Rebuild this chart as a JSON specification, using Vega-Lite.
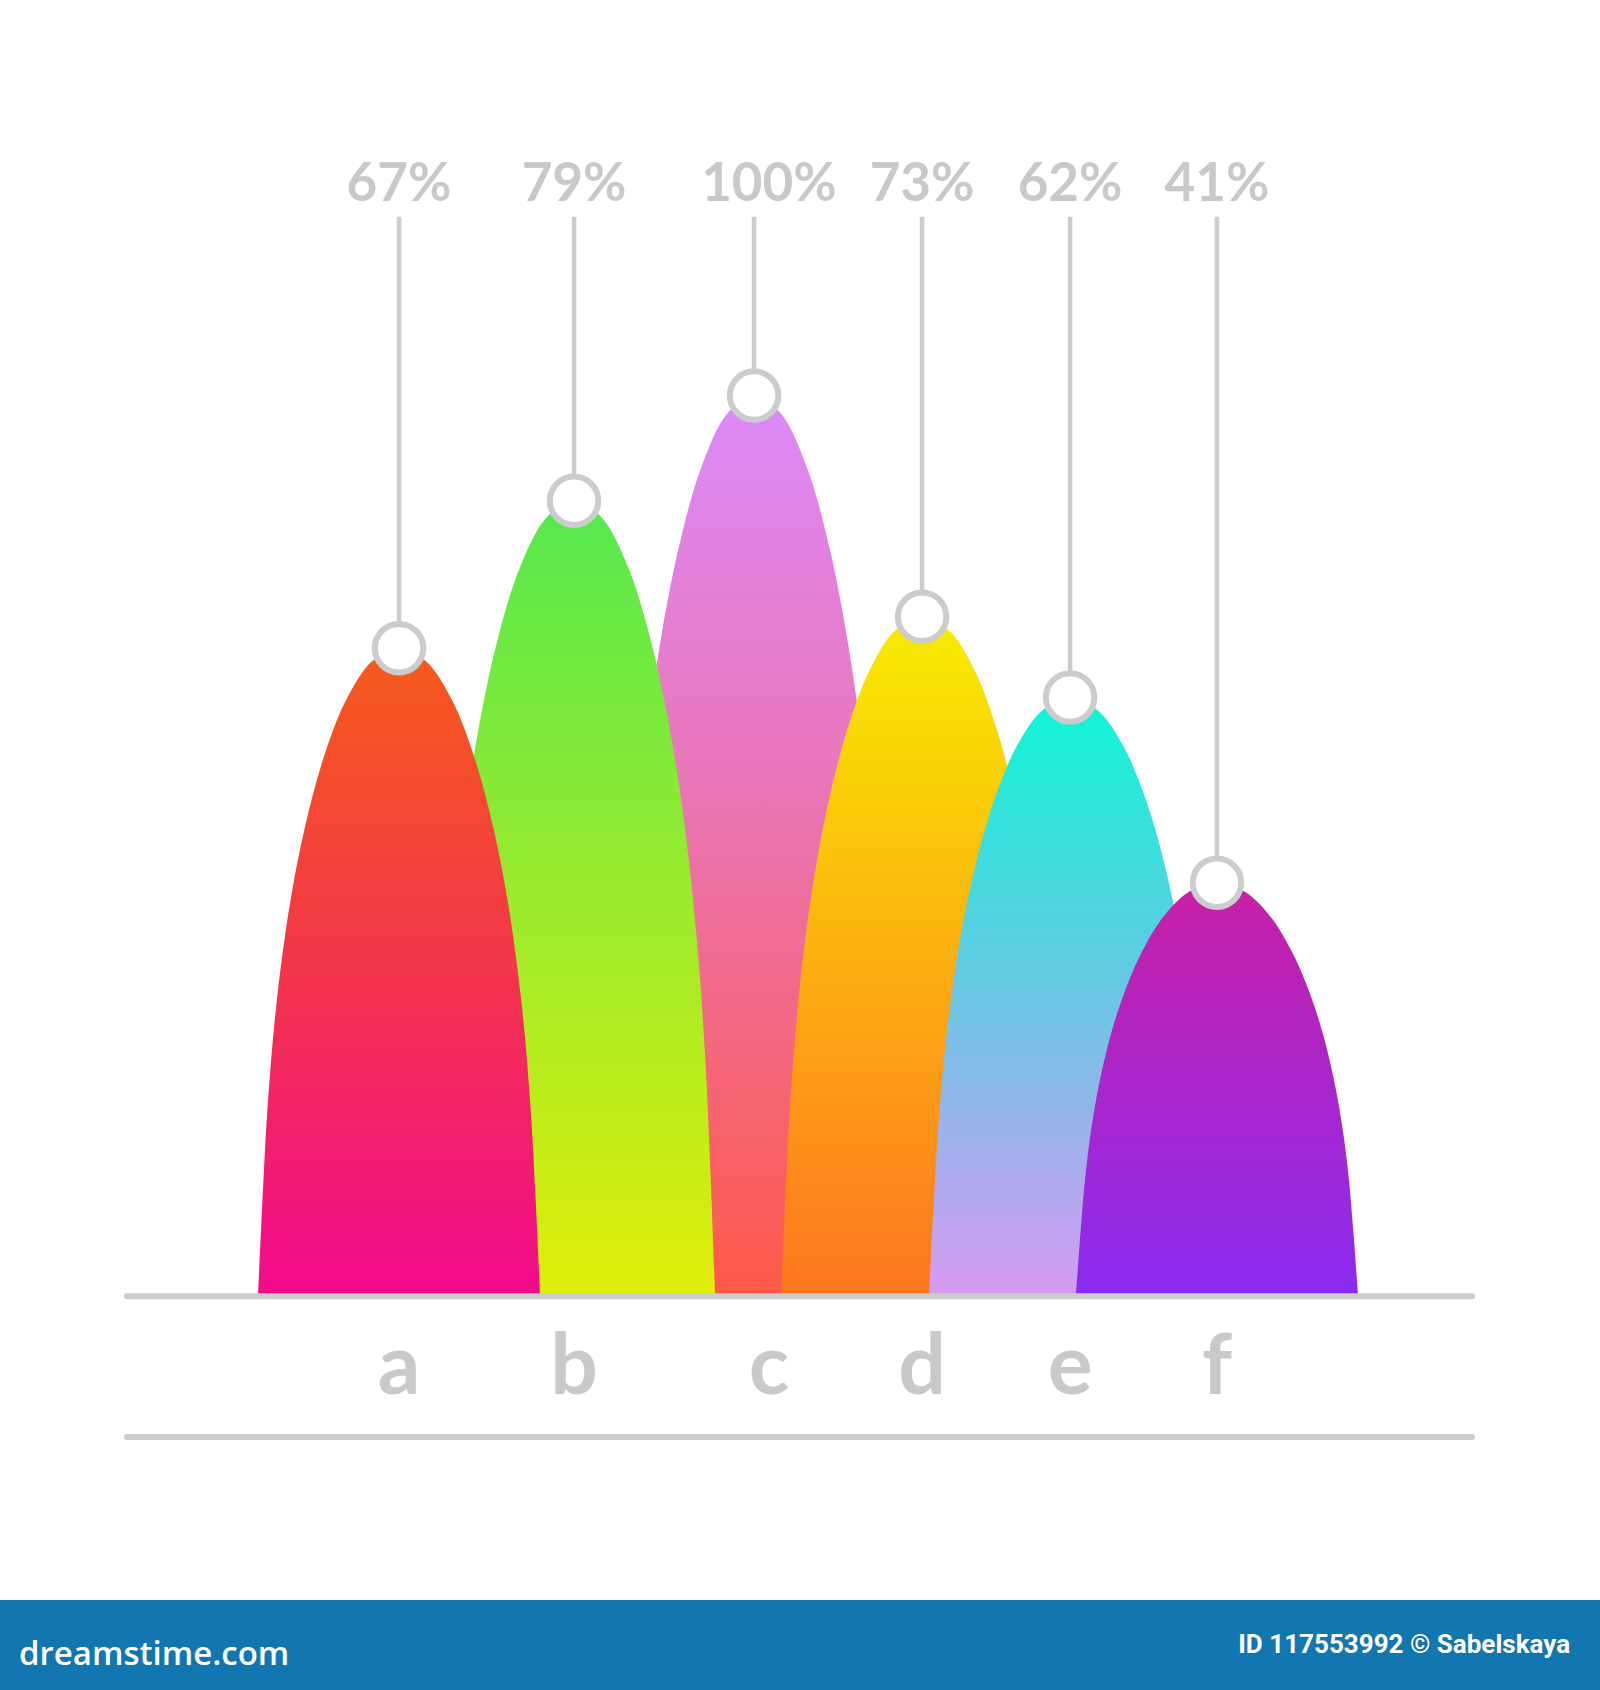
{
  "$schema": "https://vega.github.io/schema/vega-lite/v6.json",
  "width": 1600,
  "height": 1690,
  "padding": 0,
  "autosize": {"type": "fit", "contains": "padding"},
  "background": "white",
  "config": {"view": {"stroke": null}},
  "datasets": {
    "cats": [
      {"k": "a", "x": 24.94, "lx": 24.94, "h": 71.9, "pct": 0.67},
      {"k": "b", "x": 35.88, "lx": 35.88, "h": 88.3, "pct": 0.79},
      {"k": "c", "x": 47.13, "lx": 48.06, "h": 100, "pct": 1.0},
      {"k": "d", "x": 57.63, "lx": 57.63, "h": 75.4, "pct": 0.73},
      {"k": "e", "x": 66.88, "lx": 66.88, "h": 66.4, "pct": 0.62},
      {"k": "f", "x": 76.06, "lx": 76.06, "h": 45.8, "pct": 0.41}
    ],
    "outline": [
      {"k": "a", "x": 16.13, "y": 0}, {"k": "a", "x": 16.41, "y": 10.79}, {"k": "a", "x": 16.75, "y": 21.57}, {"k": "a", "x": 17.28, "y": 32.36}, {"k": "a", "x": 18.09, "y": 43.14}, {"k": "a", "x": 19.03, "y": 51.77}, {"k": "a", "x": 20.22, "y": 59.68}, {"k": "a", "x": 21.64, "y": 66.15}, {"k": "a", "x": 23.27, "y": 70.46}, {"k": "a", "x": 24.94, "y": 71.9},
      {"k": "a", "x": 26.61, "y": 70.46}, {"k": "a", "x": 28.24, "y": 66.15}, {"k": "a", "x": 29.66, "y": 59.68}, {"k": "a", "x": 30.85, "y": 51.77}, {"k": "a", "x": 31.79, "y": 43.14}, {"k": "a", "x": 32.6, "y": 32.36}, {"k": "a", "x": 33.13, "y": 21.57}, {"k": "a", "x": 33.47, "y": 10.79}, {"k": "a", "x": 33.75, "y": 0},
      {"k": "b", "x": 27.07, "y": 0}, {"k": "b", "x": 27.35, "y": 13.25}, {"k": "b", "x": 27.69, "y": 26.49}, {"k": "b", "x": 28.22, "y": 39.74}, {"k": "b", "x": 29.03, "y": 52.98}, {"k": "b", "x": 29.97, "y": 63.58}, {"k": "b", "x": 31.16, "y": 73.29}, {"k": "b", "x": 32.58, "y": 81.24}, {"k": "b", "x": 34.21, "y": 86.53}, {"k": "b", "x": 35.88, "y": 88.3},
      {"k": "b", "x": 37.55, "y": 86.53}, {"k": "b", "x": 39.18, "y": 81.24}, {"k": "b", "x": 40.6, "y": 73.29}, {"k": "b", "x": 41.79, "y": 63.58}, {"k": "b", "x": 42.73, "y": 52.98}, {"k": "b", "x": 43.54, "y": 39.74}, {"k": "b", "x": 44.07, "y": 26.49}, {"k": "b", "x": 44.41, "y": 13.25}, {"k": "b", "x": 44.69, "y": 0},
      {"k": "c", "x": 38.32, "y": 0}, {"k": "c", "x": 38.6, "y": 15}, {"k": "c", "x": 38.94, "y": 30}, {"k": "c", "x": 39.47, "y": 45}, {"k": "c", "x": 40.28, "y": 60}, {"k": "c", "x": 41.22, "y": 72}, {"k": "c", "x": 42.41, "y": 83}, {"k": "c", "x": 43.83, "y": 92}, {"k": "c", "x": 45.46, "y": 98}, {"k": "c", "x": 47.13, "y": 100},
      {"k": "c", "x": 48.8, "y": 98}, {"k": "c", "x": 50.43, "y": 92}, {"k": "c", "x": 51.85, "y": 83}, {"k": "c", "x": 53.04, "y": 72}, {"k": "c", "x": 53.98, "y": 60}, {"k": "c", "x": 54.79, "y": 45}, {"k": "c", "x": 55.32, "y": 30}, {"k": "c", "x": 55.66, "y": 15}, {"k": "c", "x": 55.94, "y": 0},
      {"k": "d", "x": 48.82, "y": 0}, {"k": "d", "x": 49.1, "y": 11.31}, {"k": "d", "x": 49.44, "y": 22.62}, {"k": "d", "x": 49.97, "y": 33.93}, {"k": "d", "x": 50.78, "y": 45.24}, {"k": "d", "x": 51.72, "y": 54.29}, {"k": "d", "x": 52.91, "y": 62.58}, {"k": "d", "x": 54.33, "y": 69.37}, {"k": "d", "x": 55.96, "y": 73.89}, {"k": "d", "x": 57.63, "y": 75.4},
      {"k": "d", "x": 59.3, "y": 73.89}, {"k": "d", "x": 60.93, "y": 69.37}, {"k": "d", "x": 62.35, "y": 62.58}, {"k": "d", "x": 63.54, "y": 54.29}, {"k": "d", "x": 64.48, "y": 45.24}, {"k": "d", "x": 65.29, "y": 33.93}, {"k": "d", "x": 65.82, "y": 22.62}, {"k": "d", "x": 66.16, "y": 11.31}, {"k": "d", "x": 66.44, "y": 0},
      {"k": "e", "x": 58.07, "y": 0}, {"k": "e", "x": 58.35, "y": 9.96}, {"k": "e", "x": 58.69, "y": 19.92}, {"k": "e", "x": 59.22, "y": 29.88}, {"k": "e", "x": 60.03, "y": 39.84}, {"k": "e", "x": 60.97, "y": 47.81}, {"k": "e", "x": 62.16, "y": 55.11}, {"k": "e", "x": 63.58, "y": 61.09}, {"k": "e", "x": 65.21, "y": 65.07}, {"k": "e", "x": 66.88, "y": 66.4},
      {"k": "e", "x": 68.55, "y": 65.07}, {"k": "e", "x": 70.18, "y": 61.09}, {"k": "e", "x": 71.6, "y": 55.11}, {"k": "e", "x": 72.79, "y": 47.81}, {"k": "e", "x": 73.73, "y": 39.84}, {"k": "e", "x": 74.54, "y": 29.88}, {"k": "e", "x": 75.07, "y": 19.92}, {"k": "e", "x": 75.41, "y": 9.96}, {"k": "e", "x": 75.69, "y": 0},
      {"k": "f", "x": 67.25, "y": 0}, {"k": "f", "x": 67.53, "y": 6.87}, {"k": "f", "x": 67.87, "y": 13.74}, {"k": "f", "x": 68.4, "y": 20.61}, {"k": "f", "x": 69.21, "y": 27.48}, {"k": "f", "x": 70.15, "y": 32.98}, {"k": "f", "x": 71.34, "y": 38.01}, {"k": "f", "x": 72.76, "y": 42.14}, {"k": "f", "x": 74.39, "y": 44.88}, {"k": "f", "x": 76.06, "y": 45.8},
      {"k": "f", "x": 77.73, "y": 44.88}, {"k": "f", "x": 79.36, "y": 42.14}, {"k": "f", "x": 80.78, "y": 38.01}, {"k": "f", "x": 81.97, "y": 32.98}, {"k": "f", "x": 82.91, "y": 27.48}, {"k": "f", "x": 83.72, "y": 20.61}, {"k": "f", "x": 84.25, "y": 13.74}, {"k": "f", "x": 84.59, "y": 6.87}, {"k": "f", "x": 84.87, "y": 0}
    ]
  },
  "layer": [
    {
      "data": {"name": "outline"},
      "transform": [{"filter": "datum.k === 'c'"}],
      "mark": {"type": "area", "interpolate": "catmull-rom", "color": {"gradient": "linear", "x1": 0, "y1": 0, "x2": 0, "y2": 1, "stops": [{"offset": 0, "color": "#DC89FA"}, {"offset": 0.45, "color": "#EA75B4"}, {"offset": 1, "color": "#FF5948"}]}},
      "encoding": {
        "x": {"field": "x", "type": "quantitative", "scale": {"domain": [0, 100], "nice": false, "zero": false}, "axis": null},
        "y": {"field": "y", "type": "quantitative", "scale": {"domain": [-44, 144], "nice": false, "zero": false}, "axis": null},
        "y2": {"datum": 0}
      }
    },
    {
      "data": {"name": "outline"},
      "transform": [{"filter": "datum.k === 'b'"}],
      "mark": {"type": "area", "interpolate": "catmull-rom", "color": {"gradient": "linear", "x1": 0, "y1": 0, "x2": 0, "y2": 1, "stops": [{"offset": 0, "color": "#55E84E"}, {"offset": 1, "color": "#E0EE0A"}]}},
      "encoding": {
        "x": {"field": "x", "type": "quantitative", "scale": {"domain": [0, 100], "nice": false, "zero": false}, "axis": null},
        "y": {"field": "y", "type": "quantitative", "scale": {"domain": [-44, 144], "nice": false, "zero": false}, "axis": null},
        "y2": {"datum": 0}
      }
    },
    {
      "data": {"name": "outline"},
      "transform": [{"filter": "datum.k === 'd'"}],
      "mark": {"type": "area", "interpolate": "catmull-rom", "color": {"gradient": "linear", "x1": 0, "y1": 0, "x2": 0, "y2": 1, "stops": [{"offset": 0, "color": "#F8EC00"}, {"offset": 1, "color": "#FF7520"}]}},
      "encoding": {
        "x": {"field": "x", "type": "quantitative", "scale": {"domain": [0, 100], "nice": false, "zero": false}, "axis": null},
        "y": {"field": "y", "type": "quantitative", "scale": {"domain": [-44, 144], "nice": false, "zero": false}, "axis": null},
        "y2": {"datum": 0}
      }
    },
    {
      "data": {"name": "outline"},
      "transform": [{"filter": "datum.k === 'a'"}],
      "mark": {"type": "area", "interpolate": "catmull-rom", "color": {"gradient": "linear", "x1": 0, "y1": 0, "x2": 0, "y2": 1, "stops": [{"offset": 0, "color": "#F65B1B"}, {"offset": 0.5, "color": "#F2354C"}, {"offset": 1, "color": "#F20A8E"}]}},
      "encoding": {
        "x": {"field": "x", "type": "quantitative", "scale": {"domain": [0, 100], "nice": false, "zero": false}, "axis": null},
        "y": {"field": "y", "type": "quantitative", "scale": {"domain": [-44, 144], "nice": false, "zero": false}, "axis": null},
        "y2": {"datum": 0}
      }
    },
    {
      "data": {"name": "outline"},
      "transform": [{"filter": "datum.k === 'e'"}],
      "mark": {"type": "area", "interpolate": "catmull-rom", "color": {"gradient": "linear", "x1": 0, "y1": 0, "x2": 0, "y2": 1, "stops": [{"offset": 0, "color": "#0EF6D6"}, {"offset": 0.5, "color": "#6AC6E4"}, {"offset": 1, "color": "#D79AF3"}]}},
      "encoding": {
        "x": {"field": "x", "type": "quantitative", "scale": {"domain": [0, 100], "nice": false, "zero": false}, "axis": null},
        "y": {"field": "y", "type": "quantitative", "scale": {"domain": [-44, 144], "nice": false, "zero": false}, "axis": null},
        "y2": {"datum": 0}
      }
    },
    {
      "data": {"name": "outline"},
      "transform": [{"filter": "datum.k === 'f'"}],
      "mark": {"type": "area", "interpolate": "catmull-rom", "color": {"gradient": "linear", "x1": 0, "y1": 0, "x2": 0, "y2": 1, "stops": [{"offset": 0, "color": "#C720A6"}, {"offset": 1, "color": "#8A2BF0"}]}},
      "encoding": {
        "x": {"field": "x", "type": "quantitative", "scale": {"domain": [0, 100], "nice": false, "zero": false}, "axis": null},
        "y": {"field": "y", "type": "quantitative", "scale": {"domain": [-44, 144], "nice": false, "zero": false}, "axis": null},
        "y2": {"datum": 0}
      }
    },
    {
      "data": {"values": [{}]},
      "mark": {"type": "rule", "color": "#CCCCCC", "strokeWidth": 6, "strokeCap": "round"},
      "encoding": {
        "x": {"datum": 7.94, "type": "quantitative", "scale": {"domain": [0, 100], "nice": false, "zero": false}, "axis": null},
        "x2": {"datum": 92.0},
        "y": {"datum": -0.2, "type": "quantitative", "scale": {"domain": [-44, 144], "nice": false, "zero": false}, "axis": null}
      }
    },
    {
      "data": {"values": [{}]},
      "mark": {"type": "rule", "color": "#CCCCCC", "strokeWidth": 6, "strokeCap": "round"},
      "encoding": {
        "x": {"datum": 7.94, "type": "quantitative", "scale": {"domain": [0, 100], "nice": false, "zero": false}, "axis": null},
        "x2": {"datum": 92.0},
        "y": {"datum": -15.85, "type": "quantitative", "scale": {"domain": [-44, 144], "nice": false, "zero": false}, "axis": null}
      }
    },
    {
      "data": {"name": "cats"},
      "mark": {"type": "rule", "color": "#CCCCCC", "strokeWidth": 4.5},
      "encoding": {
        "x": {"field": "x", "type": "quantitative", "scale": {"domain": [0, 100], "nice": false, "zero": false}, "axis": null},
        "y": {"field": "h", "type": "quantitative", "scale": {"domain": [-44, 144], "nice": false, "zero": false}, "axis": null},
        "y2": {"datum": 119.9}
      }
    },
    {
      "data": {"name": "cats"},
      "mark": {"type": "point", "shape": "circle", "filled": true, "fill": "white", "stroke": "#CCCCCC", "strokeWidth": 6, "size": 2350, "opacity": 1},
      "encoding": {
        "x": {"field": "x", "type": "quantitative", "scale": {"domain": [0, 100], "nice": false, "zero": false}, "axis": null},
        "y": {"field": "h", "type": "quantitative", "scale": {"domain": [-44, 144], "nice": false, "zero": false}, "axis": null}
      }
    },
    {
      "data": {"name": "cats"},
      "mark": {"type": "text", "font": "Lato", "fontWeight": "bold", "fontSize": 53, "color": "#C9C9C9", "align": "center", "baseline": "alphabetic"},
      "encoding": {
        "x": {"field": "lx", "type": "quantitative", "scale": {"domain": [0, 100], "nice": false, "zero": false}, "axis": null},
        "y": {"datum": 121.65, "type": "quantitative", "scale": {"domain": [-44, 144], "nice": false, "zero": false}, "axis": null},
        "text": {"field": "pct", "type": "quantitative", "format": ".0%"}
      }
    },
    {
      "data": {"name": "cats"},
      "mark": {"type": "text", "font": "Lato", "fontWeight": "bold", "fontSize": 84, "color": "#C9C9C9", "align": "center", "baseline": "alphabetic"},
      "encoding": {
        "x": {"field": "lx", "type": "quantitative", "scale": {"domain": [0, 100], "nice": false, "zero": false}, "axis": null},
        "y": {"datum": -11.07, "type": "quantitative", "scale": {"domain": [-44, 144], "nice": false, "zero": false}, "axis": null},
        "text": {"field": "k", "type": "nominal"}
      }
    },
    {
      "data": {"values": [{}]},
      "mark": {"type": "rect", "color": "#1276B0"},
      "encoding": {
        "x": {"datum": 0, "type": "quantitative", "scale": {"domain": [0, 100], "nice": false, "zero": false}, "axis": null},
        "x2": {"datum": 100},
        "y": {"datum": -34, "type": "quantitative", "scale": {"domain": [-44, 144], "nice": false, "zero": false}, "axis": null},
        "y2": {"datum": -44}
      }
    },
    {
      "data": {"values": [{"t": "dreamstime.com"}]},
      "mark": {"type": "text", "font": "Open Sans", "fontWeight": 600, "fontSize": 33, "color": "white", "align": "left", "baseline": "alphabetic"},
      "encoding": {
        "x": {"datum": 1.19, "type": "quantitative", "scale": {"domain": [0, 100], "nice": false, "zero": false}, "axis": null},
        "y": {"datum": -41.2, "type": "quantitative", "scale": {"domain": [-44, 144], "nice": false, "zero": false}, "axis": null},
        "text": {"field": "t", "type": "nominal"}
      }
    },
    {
      "data": {"values": [{"t": "ID 117553992 © Sabelskaya"}]},
      "mark": {"type": "text", "font": "Roboto", "fontWeight": "bold", "fontSize": 26, "color": "white", "align": "right", "baseline": "alphabetic"},
      "encoding": {
        "x": {"datum": 98.13, "type": "quantitative", "scale": {"domain": [0, 100], "nice": false, "zero": false}, "axis": null},
        "y": {"datum": -39.88, "type": "quantitative", "scale": {"domain": [-44, 144], "nice": false, "zero": false}, "axis": null},
        "text": {"field": "t", "type": "nominal"}
      }
    }
  ]
}
